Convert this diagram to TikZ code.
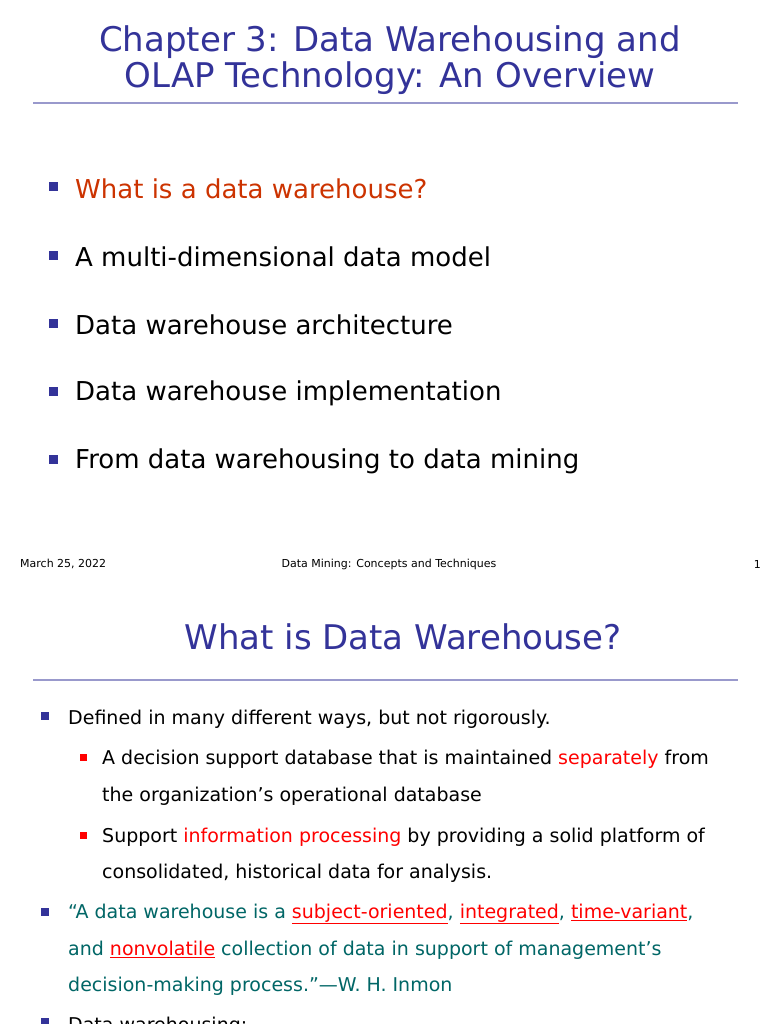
\documentclass[tikz,border=0pt]{standalone}
\usepackage{fontspec}
\setmainfont{DejaVu Sans}
\definecolor{ttl}{HTML}{333399}
\definecolor{rule}{HTML}{9999CC}
\definecolor{orng}{HTML}{CC3300}
\definecolor{teal}{HTML}{006666}
\definecolor{redt}{HTML}{FF0000}
\newcommand{\ul}[1]{\underline{#1}}
\begin{document}
\begin{tikzpicture}[x=1pt,y=1pt,
  title/.style={font=\fontsize{34}{40}\selectfont, text=ttl, align=center},
  big/.style={anchor=west, font=\fontsize{26}{30}\selectfont, inner sep=0},
  bsq/.style={fill=ttl, minimum size=9pt, inner sep=0},
  body/.style={anchor=west, font=\fontsize{19}{22}\selectfont, inner sep=0},
  rsq/.style={fill=redt, minimum size=7pt, inner sep=0},
  foot/.style={font=\fontsize{11}{13}\selectfont, inner sep=0}]
\clip (0,0) rectangle (768,-1024);
\fill[white] (0,0) rectangle (768,-1024);
% slide 1
\node[title] (t1) at (390,-60) {Chapter 3: Data Warehousing and\\[-4pt]OLAP Technology: An Overview};
\draw[rule, line width=2.5pt] (33,-103) -- (738,-103);
\foreach \y/\t [count=\i] in {257/A multi-dimensional data model,325/Data warehouse architecture,393/Data warehouse implementation,461/From data warehousing to data mining}{
  \node[bsq] (s\i) at (53,-\y+2) {};
  \node[big] (b\i) at (75,-\y) {\t};
}
\node[bsq] (s0) at (53,-187) {};
\node[big, text=orng] (b0) at (75,-189) {What is a data warehouse?};
\node[foot, anchor=west] (f1) at (20,-564) {March 25, 2022};
\node[foot] (f2) at (389,-564) {Data Mining: Concepts and Techniques};
\node[foot, anchor=east] (f3) at (761,-564) {1};
% slide 2
\node[title] (t2) at (403,-637) {What is Data Warehouse?};
\draw[rule, line width=2.5pt] (33,-680) -- (738,-680);
\node[bsq, minimum size=8pt] (q1) at (45,-716) {};
\node[body] (l1) at (68,-719) {Defined in many different ways, but not rigorously.};
\node[rsq] (r1) at (83,-757) {};
\node[body] (l2) at (102,-759) {A decision support database that is maintained \textcolor{redt}{separately} from};
\node[body] (l3) at (102,-796) {the organization’s operational database};
\node[rsq] (r2) at (83,-835) {};
\node[body] (l4) at (102,-837) {Support \textcolor{redt}{information processing} by providing a solid platform of};
\node[body] (l5) at (102,-873) {consolidated, historical data for analysis.};
\node[bsq, minimum size=8pt] (q2) at (45,-912) {};
\node[body, text=teal] (l6) at (68,-914) {“A data warehouse is a \textcolor{redt}{\ul{subject-oriented}}, \textcolor{redt}{\ul{integrated}}, \textcolor{redt}{\ul{time-variant}},};
\node[body, text=teal] (l7) at (68,-950) {and \textcolor{redt}{\ul{nonvolatile}} collection of data in support of management’s};
\node[body, text=teal] (l8) at (68,-986) {decision-making process.”—W. H. Inmon};
\node[bsq, minimum size=8pt] (q3) at (45,-1022) {};
\node[body] (l9) at (68,-1026) {Data warehousing:};
\end{tikzpicture}
\end{document}
